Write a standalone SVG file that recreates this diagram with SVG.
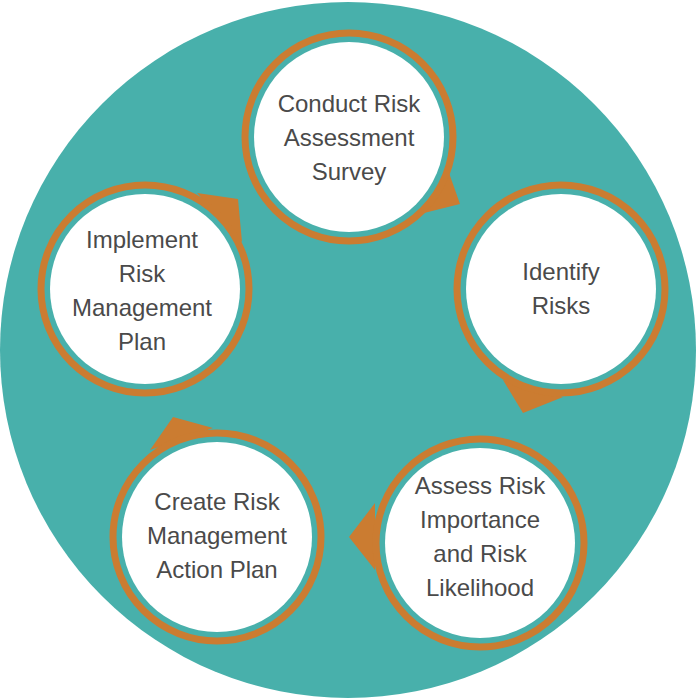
<svg xmlns="http://www.w3.org/2000/svg" width="700" height="700" viewBox="0 0 700 700">
<style>
.ring{fill:none;stroke:#CB7C31;stroke-width:7}
.in{fill:#fff}
.tri{fill:#CB7C31}
text{font-family:"Liberation Sans",Arial,sans-serif;font-size:24px;fill:#4a4a4a;text-anchor:middle}
</style>
<circle cx="348" cy="350" r="348" fill="#48B0AB"/>
<g id="connectors">
<polygon class="tri" points="460,204 448,170 424,213"/>
<polygon class="tri" points="523,413 503,380 563,397"/>
<polygon class="tri" points="349,537 375,503 375,570"/>
<polygon class="tri" points="173,417 150,450 213,428"/>
<polygon class="tri" points="238,199 197,193 242,242"/>
</g>
<g id="n1"><circle class="ring" cx="349" cy="137" r="104"/><circle class="in" cx="349" cy="137" r="95"/>
<text x="349" y="112">Conduct Risk</text><text x="349" y="146">Assessment</text><text x="349" y="180">Survey</text></g>
<g id="n2"><circle class="ring" cx="561" cy="289" r="104"/><circle class="in" cx="561" cy="289" r="95"/>
<text x="561" y="280">Identify</text><text x="561" y="314">Risks</text></g>
<g id="n3"><circle class="ring" cx="480" cy="543" r="104"/><circle class="in" cx="480" cy="543" r="95"/>
<text x="480" y="494">Assess Risk</text><text x="480" y="528">Importance</text><text x="480" y="562">and Risk</text><text x="480" y="596">Likelihood</text></g>
<g id="n4"><circle class="ring" cx="217" cy="537" r="104"/><circle class="in" cx="217" cy="537" r="95"/>
<text x="217" y="510">Create Risk</text><text x="217" y="544">Management</text><text x="217" y="578">Action Plan</text></g>
<g id="n5"><circle class="ring" cx="145" cy="289" r="104"/><circle class="in" cx="145" cy="289" r="95"/>
<text x="142" y="248">Implement</text><text x="142" y="282">Risk</text><text x="142" y="316">Management</text><text x="142" y="350">Plan</text></g>
</svg>
